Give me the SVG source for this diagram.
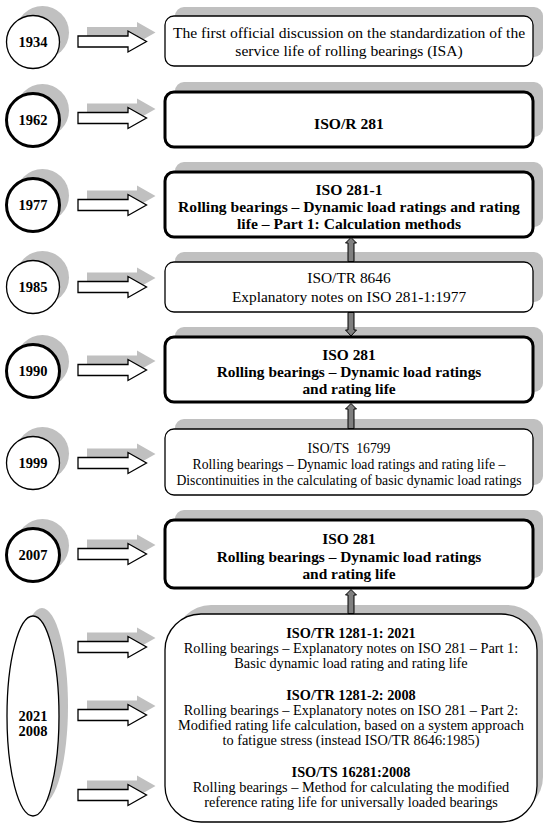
<svg xmlns="http://www.w3.org/2000/svg" xmlns:xlink="http://www.w3.org/1999/xlink" width="550" height="829" viewBox="0 0 550 829">
<style>
.sh{fill:#c0c0c0;stroke:none}
.bx{fill:#fff;stroke:#000;stroke-width:1.3}
.tk{stroke-width:3}
.t{font-family:"Liberation Serif","Times New Roman",serif;font-size:14px;text-anchor:middle;fill:#000}
.b{font-weight:bold}
.f156{font-size:15.6px}
.f155{font-size:15.4px}
.f137{font-size:13.7px}
.f143{font-size:14.3px}
.y{font-family:"Liberation Serif","Times New Roman",serif;font-size:14.5px;font-weight:bold;text-anchor:middle;fill:#000}
.ha{fill:#fff;stroke:#000;stroke-width:1.3}
.va{fill:#7f7f7f;stroke:#000;stroke-width:1}
</style>
<defs>
<path id="harrow" d="M78,-5.5 H128 V-10.5 L146.5,0 L128,10.5 V5.5 H78 Z"/>
</defs>
<rect width="550" height="829" fill="#fff"/>

<g id="arrows-horizontal">
<use xlink:href="#harrow" class="sh" transform="translate(9,32.5)"/>
<use xlink:href="#harrow" class="ha" transform="translate(0,41.5)"/>
<use xlink:href="#harrow" class="sh" transform="translate(9,109)"/>
<use xlink:href="#harrow" class="ha" transform="translate(0,118)"/>
<use xlink:href="#harrow" class="sh" transform="translate(9,196)"/>
<use xlink:href="#harrow" class="ha" transform="translate(0,205)"/>
<use xlink:href="#harrow" class="sh" transform="translate(9,278)"/>
<use xlink:href="#harrow" class="ha" transform="translate(0,287)"/>
<use xlink:href="#harrow" class="sh" transform="translate(9,361)"/>
<use xlink:href="#harrow" class="ha" transform="translate(0,370)"/>
<use xlink:href="#harrow" class="sh" transform="translate(9,454)"/>
<use xlink:href="#harrow" class="ha" transform="translate(0,463)"/>
<use xlink:href="#harrow" class="sh" transform="translate(9,545)"/>
<use xlink:href="#harrow" class="ha" transform="translate(0,554)"/>
<use xlink:href="#harrow" class="sh" transform="translate(9,638)"/>
<use xlink:href="#harrow" class="ha" transform="translate(0,647)"/>
<use xlink:href="#harrow" class="sh" transform="translate(9,706)"/>
<use xlink:href="#harrow" class="ha" transform="translate(0,715)"/>
<use xlink:href="#harrow" class="sh" transform="translate(9,786)"/>
<use xlink:href="#harrow" class="ha" transform="translate(0,795)"/>
</g>

<g id="y1934">
<circle class="sh" cx="42.5" cy="32.5" r="26.5"/>
<circle class="bx" cx="33" cy="42" r="26.5"/>
<text class="y" x="33" y="47">1934</text>
</g>
<g id="y1962">
<circle class="sh" cx="42.5" cy="110.5" r="26.5"/>
<circle class="bx tk" cx="33" cy="120" r="26.5"/>
<text class="y" x="33" y="125">1962</text>
</g>
<g id="y1977">
<circle class="sh" cx="42.5" cy="195.5" r="26.5"/>
<circle class="bx tk" cx="33" cy="205" r="26.5"/>
<text class="y" x="33" y="210">1977</text>
</g>
<g id="y1985">
<circle class="sh" cx="42.5" cy="277.5" r="26.5"/>
<circle class="bx" cx="33" cy="287" r="26.5"/>
<text class="y" x="33" y="292">1985</text>
</g>
<g id="y1990">
<circle class="sh" cx="42.5" cy="361.5" r="26.5"/>
<circle class="bx tk" cx="33" cy="371" r="26.5"/>
<text class="y" x="33" y="376">1990</text>
</g>
<g id="y1999">
<circle class="sh" cx="42.5" cy="453.5" r="26.5"/>
<circle class="bx" cx="33" cy="463" r="26.5"/>
<text class="y" x="33" y="468">1999</text>
</g>
<g id="y2007">
<circle class="sh" cx="42.5" cy="545.5" r="26.5"/>
<circle class="bx tk" cx="33" cy="555" r="26.5"/>
<text class="y" x="33" y="560">2007</text>
</g>
<g id="y2021-2008">
<ellipse class="sh" cx="42" cy="706" rx="26" ry="98"/>
<ellipse class="bx" cx="33" cy="716" rx="26" ry="100"/>
<text class="y" x="33" y="721">2021</text>
<text class="y" x="33" y="736">2008</text>
</g>

<g id="n1934">
<rect class="sh" x="175" y="7" width="368" height="50" rx="9"/>
<rect class="bx" x="165" y="16" width="368" height="50" rx="9"/>
<text class="t f156" x="349" y="38">The first official discussion on the standardization of the</text>
<text class="t f156" x="349" y="56">service life of rolling bearings (ISA)</text>
</g>
<g id="n1962">
<rect class="sh" x="175" y="82" width="368" height="55" rx="9"/>
<rect class="bx tk" x="165" y="92" width="368" height="55" rx="9"/>
<text class="t b f156" x="349" y="129">ISO/R 281</text>
</g>
<g id="n1977">
<rect class="sh" x="175" y="162" width="368" height="65" rx="9"/>
<rect class="bx tk" x="165" y="172" width="368" height="65" rx="9"/>
<text class="t b f156" x="349" y="195">ISO 281-1</text>
<text class="t b f156" x="349" y="212">Rolling bearings – Dynamic load ratings and rating</text>
<text class="t b f156" x="349" y="229">life – Part 1: Calculation methods</text>
</g>
<g id="n1985">
<rect class="sh" x="175" y="252" width="368" height="50" rx="9"/>
<rect class="bx" x="165" y="262" width="368" height="50" rx="9"/>
<text class="t f155" x="349" y="283">ISO/TR 8646</text>
<text class="t f155" x="349" y="302">Explanatory notes on ISO 281-1:1977</text>
</g>
<g id="n1990">
<rect class="sh" x="175" y="327" width="368" height="65" rx="9"/>
<rect class="bx tk" x="165" y="337" width="368" height="65" rx="9"/>
<text class="t b f155" x="349" y="360">ISO 281</text>
<text class="t b f155" x="349" y="377">Rolling bearings – Dynamic load ratings</text>
<text class="t b f155" x="349" y="394">and rating life</text>
</g>
<g id="n1999">
<rect class="sh" x="175" y="419" width="368" height="66" rx="9"/>
<rect class="bx" x="165" y="429" width="368" height="66" rx="9"/>
<text class="t f137" x="349" y="453" xml:space="preserve">ISO/TS  16799</text>
<text class="t f137" x="349" y="469">Rolling bearings – Dynamic load ratings and rating life –</text>
<text class="t f137" x="349" y="485">Discontinuities in the calculating of basic dynamic load ratings</text>
</g>
<g id="n2007">
<rect class="sh" x="175" y="510" width="368" height="68" rx="9"/>
<rect class="bx tk" x="165" y="520" width="368" height="68" rx="9"/>
<text class="t b f155" x="349" y="544">ISO 281</text>
<text class="t b f155" x="349" y="562">Rolling bearings – Dynamic load ratings</text>
<text class="t b f155" x="349" y="579">and rating life</text>
</g>
<g id="n2021">
<rect class="sh" x="175" y="605" width="368" height="208" rx="36"/>
<rect class="bx" x="165" y="614" width="372" height="208" rx="36"/>
<text class="t b f143" x="351" y="638">ISO/TR 1281-1: 2021</text>
<text class="t f143" x="351" y="653">Rolling bearings – Explanatory notes on ISO 281 – Part 1:</text>
<text class="t f143" x="351" y="668">Basic dynamic load rating and rating life</text>
<text class="t b f143" x="351" y="700">ISO/TR 1281-2: 2008</text>
<text class="t f143" x="351" y="715">Rolling bearings – Explanatory notes on ISO 281 – Part 2:</text>
<text class="t f143" x="351" y="730">Modified rating life calculation, based on a system approach</text>
<text class="t f143" x="351" y="745">to fatigue stress (instead ISO/TR 8646:1985)</text>
<text class="t b f143" x="351" y="777">ISO/TS 16281:2008</text>
<text class="t f143" x="351" y="792">Rolling bearings – Method for calculating the modified</text>
<text class="t f143" x="351" y="807">reference rating life for universally loaded bearings</text>
</g>

<g id="connectors">
<path class="va" d="M348,261.5 V243 H345.5 L351,237.5 L356.5,243 H354 V261.5 Z"/>
<path class="va" d="M348,312.5 V330 H345.5 L351,336 L356.5,330 H354 V312.5 Z"/>
<path class="va" d="M348,428.5 V409 H345.5 L351,403.5 L356.5,409 H354 V428.5 Z"/>
<path class="va" d="M348,613.5 V595 H345.5 L351,589.5 L356.5,595 H354 V613.5 Z"/>
</g>
</svg>
